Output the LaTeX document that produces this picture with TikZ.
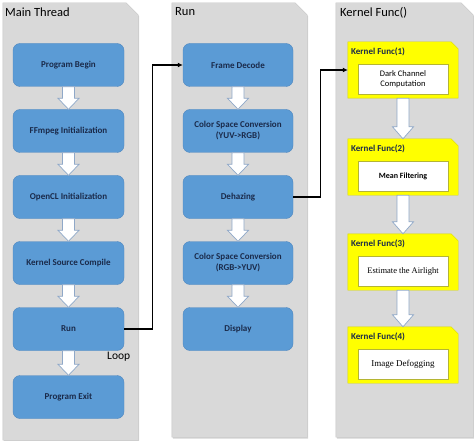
\documentclass[tikz,border=0pt]{standalone}
\usepackage{fontspec}
\setmainfont{Carlito}
\newfontfamily\serifface{Liberation Serif}
\usetikzlibrary{shadows,arrows.meta,calc}
\definecolor{panelgrey}{HTML}{D9D9D9}
\definecolor{panelborder}{HTML}{C4C4C4}
\definecolor{boxblue}{HTML}{5B9BD5}
\definecolor{boxborder}{HTML}{4F87BF}
\definecolor{navy}{HTML}{1A2A4A}
\definecolor{arrowline}{HTML}{8FA8C8}
\definecolor{kyellow}{HTML}{FFFF00}
\definecolor{kborder}{HTML}{D8D800}
\newcommand{\blockarrow}[3][11]{%
  \draw[blockarr] let \p1=(#2.south), \p2=(#3.north) in
    (\x1-6pt,\y1) -- (\x1+6pt,\y1) -- (\x1+6pt,\y2+#1pt) -- (\x1+10.5pt,\y2+#1pt)
    -- (\x1,\y2) -- (\x1-10.5pt,\y2+#1pt) -- (\x1-6pt,\y2+#1pt) -- cycle;}
\newcommand{\cutshape}[3]{% style, node, cut
  \path[#1] (#2.south west) -- (#2.north west) -- ([xshift=-#3]#2.north east)
    -- ([yshift=-#3]#2.north east) -- (#2.south east) -- cycle;}
\begin{document}
\begin{tikzpicture}[x=1pt,y=-1pt,
  panel/.style={rectangle, inner sep=0pt},
  panelshape/.style={draw=panelborder, fill=panelgrey,
    drop shadow={shadow xshift=1pt,shadow yshift=-1.5pt,opacity=0.35}},
  title/.style={anchor=west, font=\fontsize{12.5}{14}\selectfont, text=black, inner sep=0pt},
  mbox/.style={draw=boxborder, fill=boxblue, rounded corners=7pt,
    minimum width=111pt, minimum height=43pt, inner sep=1pt,
    font=\bfseries\fontsize{9}{11}\selectfont, text=navy, align=center},
  kbox/.style={rectangle, inner sep=0pt, minimum width=110pt, minimum height=56pt},
  kshape/.style={draw=kborder, fill=kyellow},
  klabel/.style={anchor=west, font=\bfseries\fontsize{9}{10}\selectfont, text=navy, inner sep=0pt},
  wbox/.style={draw=kborder!60!gray, fill=white, minimum width=90pt, minimum height=30pt,
    inner sep=1pt, align=center, text=black},
  blockarr/.style={draw=arrowline, fill=white, line width=0.7pt},
  conn/.style={draw=black, line width=1.3pt, -{Latex[length=5pt,width=5pt]}}
]
\useasboundingbox (0,0) rectangle (474,441);
% panels
\node[panel, minimum width=135pt, minimum height=437pt] (p1) at (70.5,221.5) {};
\node[panel, minimum width=135pt, minimum height=434pt] (p2) at (239.5,220) {};
\node[panel, minimum width=137pt, minimum height=434pt] (p3) at (404.5,220) {};
\cutshape{panelshape}{p1}{12pt}
\cutshape{panelshape}{p2}{12pt}
\cutshape{panelshape}{p3}{12pt}
\node[title] (t1) at (5,12) {Main Thread};
\node[title] (t2) at (175,12) {Run};
\node[title] (t3) at (340,13) {Kernel Func()};
% main thread
\node[mbox] (pb) at (68.5,65) {Program Begin};
\node[mbox] (ff) at (68.5,131) {FFmpeg Initialization};
\node[mbox] (ocl) at (68.5,197) {OpenCL Initialization};
\node[mbox] (ksc) at (68.5,263) {Kernel Source Compile};
\node[mbox] (run) at (68.5,329) {Run};
\node[mbox] (pe) at (68.5,397) {Program Exit};
\blockarrow{pb}{ff}
\blockarrow{ff}{ocl}
\blockarrow{ocl}{ksc}
\blockarrow{ksc}{run}
\blockarrow{run}{pe}
\node[anchor=west, font=\fontsize{11.5}{13}\selectfont, inner sep=0pt] (loop) at (107,357) {Loop};
% run
\node[mbox, minimum width=110pt] (fd) at (238,65) {Frame Decode};
\node[mbox, minimum width=110pt] (c1) at (238,131) {Color Space Conversion\\(YUV->RGB)};
\node[mbox, minimum width=110pt] (dh) at (238,197) {Dehazing};
\node[mbox, minimum width=110pt] (c2) at (238,263) {Color Space Conversion\\(RGB->YUV)};
\node[mbox, minimum width=110pt] (dp) at (238,329) {Display};
\blockarrow{fd}{c1}
\blockarrow{c1}{dh}
\blockarrow{dh}{c2}
\blockarrow{c2}{dp}
% kernel
\node[kbox] (k1) at (403,70) {};
\node[kbox] (k2) at (403,167) {};
\node[kbox] (k3) at (403,262) {};
\node[kbox] (k4) at (403,355) {};
\cutshape{kshape}{k1}{7pt}
\cutshape{kshape}{k2}{7pt}
\cutshape{kshape}{k3}{7pt}
\cutshape{kshape}{k4}{7pt}
\node[klabel] (l1) at (351,52) {Kernel Func(1)};
\node[klabel] (l2) at (351,149) {Kernel Func(2)};
\node[klabel] (l3) at (351,244) {Kernel Func(3)};
\node[klabel] (l4) at (351,337) {Kernel Func(4)};
\node[wbox, font=\fontsize{8.5}{10}\selectfont] (w1) at ([yshift=19pt]k1.south) {Dark Channel\\Computation};
\node[wbox, font=\bfseries\fontsize{8}{9.5}\selectfont] (w2) at ([yshift=19pt]k2.south) {Mean Filtering};
\node[wbox, font=\serifface\fontsize{8.5}{10}\selectfont] (w3) at ([yshift=19pt]k3.south) {Estimate the Airlight};
\node[wbox, font=\serifface\fontsize{9}{10}\selectfont] (w4) at ([yshift=19pt]k4.south) {Image Defogging};
\blockarrow[12]{k1}{k2}
\blockarrow[12]{k2}{k3}
\blockarrow[12]{k3}{k4}
% connectors
\draw[conn] (run.east) -- ++(28,0) |- (fd.west);
\draw[conn] (dh.east) -- ++(27,0) |- (k1.west);
\end{tikzpicture}
\end{document}
